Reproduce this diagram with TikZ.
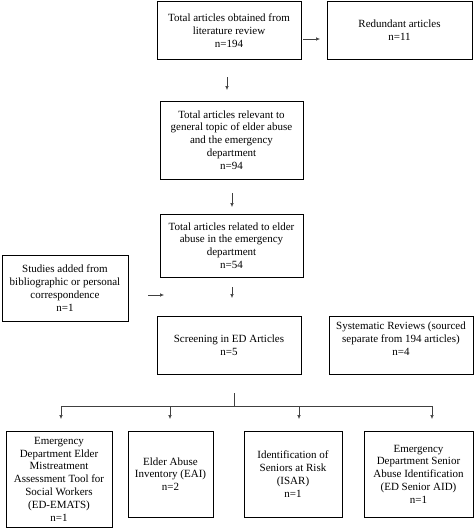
\documentclass[tikz,border=0pt]{standalone}
\usepackage{fontspec}
\setmainfont{Liberation Serif}
\usetikzlibrary{arrows.meta}
\begin{document}
\begin{tikzpicture}[x=1pt,y=-1pt,
  box/.style={draw=black, line width=1pt, align=center, inner sep=0pt,
    font=\fontsize{11}{12.8}\selectfont},
  conn/.style={draw=black!75, line width=0.5pt},
  arr/.style={conn, -{Latex[length=4pt,width=3.5pt]}}]
\useasboundingbox (0,0) rectangle (474,528);
\node[box, minimum width=144pt, minimum height=58pt] (b1) at (229,30.5)
  {Total articles obtained from\\literature review\\n=194};
\node[box, minimum width=145pt, minimum height=58pt] (red) at (399.5,30.5)
  {Redundant articles\\n=11};
\node[box, minimum width=143pt, minimum height=78pt] (b2) at (231.5,140)
  {Total articles relevant to\\general topic of elder abuse\\and the emergency\\department\\n=94};
\node[box, minimum width=143pt, minimum height=63pt] (b3) at (231.5,245.5)
  {Total articles related to elder\\abuse in the emergency\\department\\n=54};
\node[box, minimum width=126pt, minimum height=66pt] (stud) at (65,288)
  {Studies added from\\bibliographic or personal\\correspondence\\n=1};
\node[box, minimum width=144pt, minimum height=58pt] (scr) at (229,345)
  {Screening in ED Articles\\n=5};
\node[box, minimum width=144pt, minimum height=58pt] (sys) at (401,345)
  {Systematic Reviews (sourced\\separate from 194 articles)\\n=4\\ \mbox{}};
\node[box, minimum width=106pt, minimum height=96pt] (ta) at (59,479)
  {Emergency\\Department Elder\\Mistreatment\\Assessment Tool for\\Social Workers\\(ED-EMATS)\\n=1};
\node[box, minimum width=85pt, minimum height=86pt] (tb) at (170.5,474)
  {Elder Abuse\\Inventory (EAI)\\n=2};
\node[box, minimum width=98pt, minimum height=86pt] (tc) at (293,474)
  {Identification of\\Seniors at Risk\\(ISAR)\\n=1};
\node[box, minimum width=109pt, minimum height=86pt] (td) at (418.5,474)
  {Emergency\\Department Senior\\Abuse Identification\\(ED Senior AID)\\n=1};
% free arrow ends
\coordinate (a1s) at (303,39); \coordinate (a1e) at (320,39);
\coordinate (a2s) at (227,77); \coordinate (a2e) at (227,90);
\coordinate (a3s) at (232,193); \coordinate (a3e) at (232,207);
\coordinate (a4s) at (232,287); \coordinate (a4e) at (232,298);
\coordinate (a5s) at (148,295); \coordinate (a5e) at (164,295);
\coordinate (t0) at (234,393); \coordinate (tm) at (234,406);
\coordinate (tl) at (61,406); \coordinate (tr) at (432,406);
\coordinate (ka) at (61,419); \coordinate (kb) at (170,419);
\coordinate (kc) at (299,419); \coordinate (kd) at (432,419);
\coordinate (hb) at (170,406); \coordinate (hc) at (299,406);
\draw[arr] (a1s) -- (a1e);
\draw[arr] (a2s) -- (a2e);
\draw[arr] (a3s) -- (a3e);
\draw[arr] (a4s) -- (a4e);
\draw[arr] (a5s) -- (a5e);
\draw[conn] (t0) -- (tm);
\draw[conn] (tl) -- (tr);
\draw[arr] (tl) -- (ka);
\draw[arr] (hb) -- (kb);
\draw[arr] (hc) -- (kc);
\draw[arr] (tr) -- (kd);
\end{tikzpicture}
\end{document}
